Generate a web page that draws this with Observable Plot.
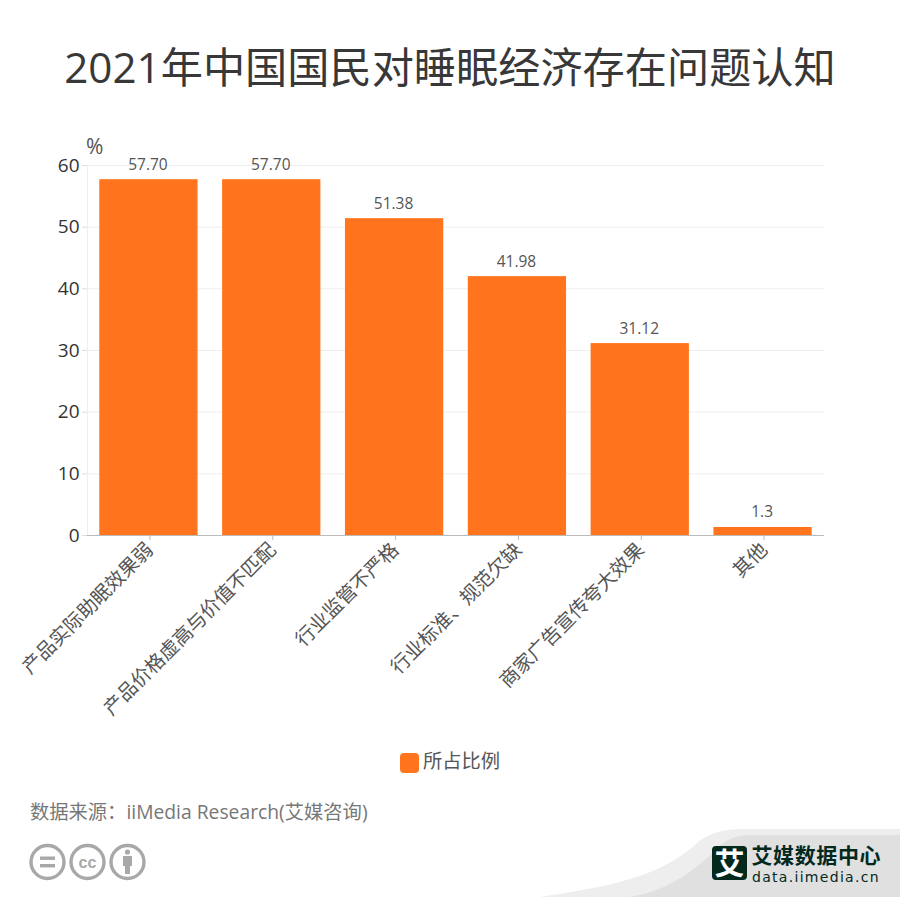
<!DOCTYPE html>
<html lang="zh">
<head>
<meta charset="utf-8">
<script src="https://cdn.jsdelivr.net/npm/d3@7"></script>
<script src="https://cdn.jsdelivr.net/npm/@observablehq/plot@0.6"></script>
<style>
html,body{margin:0;padding:0;background:#fff}
body{width:900px;height:898px;position:relative;overflow:hidden;font-family:"Open Sans","Noto Sans CJK SC",sans-serif}
.t{position:absolute;white-space:nowrap;line-height:1}
#chart{position:absolute;left:0;top:0}
#chart svg{display:block}
</style>
</head>
<body>
<div id="chart"></div>
<div class="t" style="left:0;width:900px;text-align:center;top:46px;font-size:42.2px;color:#383838">2021年中国国民对睡眠经济存在问题认知</div>
<div class="t" style="left:86px;top:136px;font-size:21px;color:#555">%</div>
<div style="position:absolute;left:400px;top:753px;width:19px;height:20px;border-radius:4px;background:#ff741c"></div>
<div class="t" style="left:423px;top:751px;font-size:19.3px;color:#555">所占比例</div>
<div class="t" style="left:30px;top:802px;font-size:19.3px;color:#777">数据来源：iiMedia Research(艾媒咨询)</div>

<svg style="position:absolute;left:0;top:0" width="900" height="898">
  <path d="M540 897 C620 885 660 875 695 845 C708 833 722 829 745 829 L900 829 L900 897 Z" fill="#eeeeee"/>
  <path d="M630 897 C670 890 695 870 720 846 C730 837 738 835 760 835 L900 835 L900 897 Z" fill="#e0e0e0"/>
  <g fill="none" stroke="#a8a8a8" stroke-width="3.4">
    <circle cx="47.5" cy="862" r="16.5"/><circle cx="87.5" cy="862" r="16.5"/><circle cx="127.5" cy="862" r="16.5"/>
  </g>
  <g fill="#a8a8a8">
    <rect x="40" y="856.5" width="15" height="3.4"/><rect x="40" y="864" width="15" height="3.4"/>
    <circle cx="127.5" cy="852" r="2.6"/>
    <path d="M123 856 H132 V866 H130 V874 H125 V866 H123 Z"/>
  </g>
  <text x="87.5" y="868" text-anchor="middle" font-size="16" font-weight="700" fill="#a8a8a8" font-family="Liberation Sans">cc</text>
  <rect x="712" y="846" width="35" height="34" rx="4" fill="#03291f"/>
  <text x="729.5" y="874" text-anchor="middle" font-size="30" font-weight="700" fill="#fff" font-family="Noto Sans CJK SC">艾</text>
  <text x="751.5" y="863" font-size="21" font-weight="700" fill="#03291f" letter-spacing="0.6" font-family="Noto Sans CJK SC">艾媒数据中心</text>
  <text x="752" y="882" font-size="14" fill="#03291f" letter-spacing="1.3" font-family="DejaVu Sans">data.iimedia.cn</text>
</svg>

<script>
const categories = ["产品实际助眠效果弱","产品价格虚高与价值不匹配","行业监管不严格","行业标准、规范欠缺","商家广告宣传夸大效果","其他"];
const values = [57.70,57.70,51.38,41.98,31.12,1.3];
const valueLabels = ["57.70","57.70","51.38","41.98","31.12","1.3"];
const yTicks = [0,10,20,30,40,50,60];
const rows = categories.map((c,i)=>({c,v:values[i],l:valueLabels[i]}));

const plot = Plot.plot({
  width:900,height:898,
  marginTop:165,marginBottom:363,marginLeft:87,marginRight:76,
  style:{fontFamily:'"Open Sans","Noto Sans CJK SC",sans-serif',background:"transparent",overflow:"visible"},
  x:{domain:categories,paddingInner:0.2,paddingOuter:0.1,round:false,label:null},
  y:{domain:[0,60],label:null},
  marks:[
    Plot.gridY(yTicks,{stroke:"#eeeeee",strokeOpacity:1}),
    Plot.frame({anchor:"left",stroke:"#eeeeee"}),
    Plot.barY(rows,{x:"c",y:"v",fill:"#ff741c"}),
    Plot.ruleY([0],{stroke:"#bbbbbb"}),
    Plot.axisY({ticks:yTicks,tickSize:5,stroke:"#dddddd",fill:"#333",fontSize:19,tickPadding:3,label:null}),
    Plot.axisX({tickSize:5,stroke:"#bbbbbb",fill:"#555",fontSize:19.5,tickRotate:-45,textAnchor:"end",tickPadding:6,dx:1,label:null}),
    Plot.text(rows,{x:"c",y:"v",text:"l",dx:-1,dy:-15,fontSize:15.5,fill:"#555"})
  ]
});
document.getElementById("chart").appendChild(plot);
</script>
</body>
</html>
